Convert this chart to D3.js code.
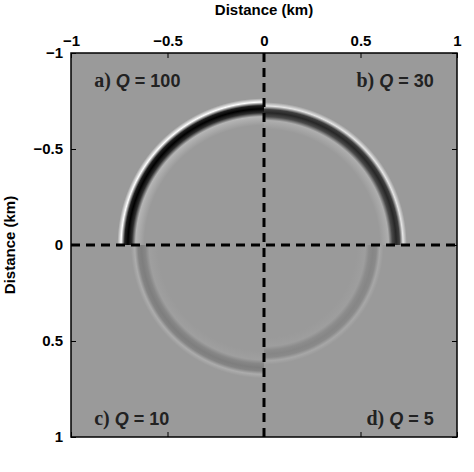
<!DOCTYPE html>
<html><head><meta charset="utf-8">
<script src="https://cdn.jsdelivr.net/npm/d3@7"></script>
<style>body{margin:0;background:#fff}</style>
</head><body><div id="chart"></div>
<script>
const ticks = [-1, -0.5, 0, 0.5, 1];
const panels = ["a)", "b)", "c)", "d)"];
const qValues = [100, 30, 10, 5];
const radii = [0.71, 0.69, 0.64, 0.57];      // km, wavefront radius per quadrant
const amps = [1.0, 0.75, 0.18, 0.13];        // wavefront contrast per quadrant
const quads = [[-1, 0, -1, 0], [0, 1, -1, 0], [-1, 0, 0, 1], [0, 1, 0, 1]]; // x0,x1,y0,y1

const W = 474, H = 472;
const margin = {left: 71, right: 17, top: 53, bottom: 35};
const w = W - margin.left - margin.right, h = H - margin.top - margin.bottom;

const svg = d3.select("#chart").append("svg").attr("width", W).attr("height", H);
const g = svg.append("g").attr("transform", `translate(${margin.left},${margin.top})`);
const x = d3.scaleLinear().domain([-1, 1]).range([0, w]);
const y = d3.scaleLinear().domain([-1, 1]).range([0, h]);

const bg = "#9a9a9a";
const mix = (c, a) => d3.interpolateRgb(bg, c)(a);
const defs = svg.append("defs");

quads.forEach((q, i) => {
  const r = radii[i], a = amps[i];
  const grad = defs.append("radialGradient").attr("id", "g" + i)
    .attr("gradientUnits", "userSpaceOnUse")
    .attr("cx", x(0)).attr("cy", y(0)).attr("r", x(1) - x(0));
  const stops = [
    [0, bg], [r - 0.09, bg], [r - 0.045, mix("#b5b5b5", a)], [r - 0.025, mix("#000", a * 0.7)],
    [r - 0.005, mix("#000", a)], [r + 0.012, mix("#000", a * 0.8)], [r + 0.03, mix("#fff", a)],
    [r + 0.05, bg], [1, bg]
  ];
  stops.forEach(s => grad.append("stop").attr("offset", s[0]).attr("stop-color", s[1]));
  g.append("rect")
    .attr("x", x(q[0])).attr("y", y(q[2]))
    .attr("width", x(q[1]) - x(q[0])).attr("height", y(q[3]) - y(q[2]))
    .attr("fill", `url(#g${i})`);
});

// dashed cross
g.append("line").attr("x1", x(0)).attr("x2", x(0)).attr("y1", 0).attr("y2", h)
  .attr("stroke", "#000").attr("stroke-width", 3).attr("stroke-dasharray", "9,6");
g.append("line").attr("y1", y(0)).attr("y2", y(0)).attr("x1", 0).attr("x2", w)
  .attr("stroke", "#000").attr("stroke-width", 3).attr("stroke-dasharray", "9,6");

// panel labels
const lpos = [[0.06, 0.07, "start"], [0.94, 0.07, "end"], [0.06, 0.95, "start"], [0.94, 0.95, "end"]];
panels.forEach((p, i) => {
  const t = g.append("text")
    .attr("x", lpos[i][0] * w).attr("y", lpos[i][1] * h + 7)
    .attr("text-anchor", lpos[i][2]).attr("fill", "#222")
    .style("font-size", "18px").style("font-weight", "bold");
  t.append("tspan").text(p + " ").style("font-family", "Liberation Serif").style("font-size", "20px");
  t.append("tspan").text("Q").style("font-family", "Liberation Sans").style("font-style", "italic");
  t.append("tspan").text(" = " + qValues[i]).style("font-family", "Liberation Sans");
});

// axes
const fmt = d => d === 0 ? "0" : (d < 0 ? "\u2212" : "") + Math.abs(d);
const styleAxis = sel => {
  sel.select(".domain").remove();
  sel.selectAll("text").style("font-family", "Liberation Sans").style("font-size", "15px").style("font-weight", "bold");
};
g.append("g").call(d3.axisTop(x).tickValues(ticks).tickFormat(fmt).tickSizeInner(-5).tickPadding(7)).call(styleAxis);
g.append("g").call(d3.axisLeft(y).tickValues(ticks).tickFormat(fmt).tickSizeInner(-5).tickPadding(8)).call(styleAxis);
g.append("g").attr("transform", `translate(0,${h})`).call(d3.axisBottom(x).tickValues(ticks).tickFormat("").tickSizeInner(-5)).call(styleAxis);
g.append("g").attr("transform", `translate(${w},0)`).call(d3.axisRight(y).tickValues(ticks).tickFormat("").tickSizeInner(-5)).call(styleAxis);
g.append("rect").attr("width", w).attr("height", h).attr("fill", "none").attr("stroke", "#000").attr("stroke-width", 1.5);

svg.append("text").attr("x", margin.left + w / 2).attr("y", 15).attr("text-anchor", "middle")
  .style("font-family", "Liberation Sans").style("font-size", "15px").style("font-weight", "bold").text("Distance (km)");
svg.append("text").attr("transform", `translate(15,${margin.top + h / 2}) rotate(-90)`).attr("text-anchor", "middle")
  .style("font-family", "Liberation Sans").style("font-size", "15px").style("font-weight", "bold").text("Distance (km)");
</script></body></html>
